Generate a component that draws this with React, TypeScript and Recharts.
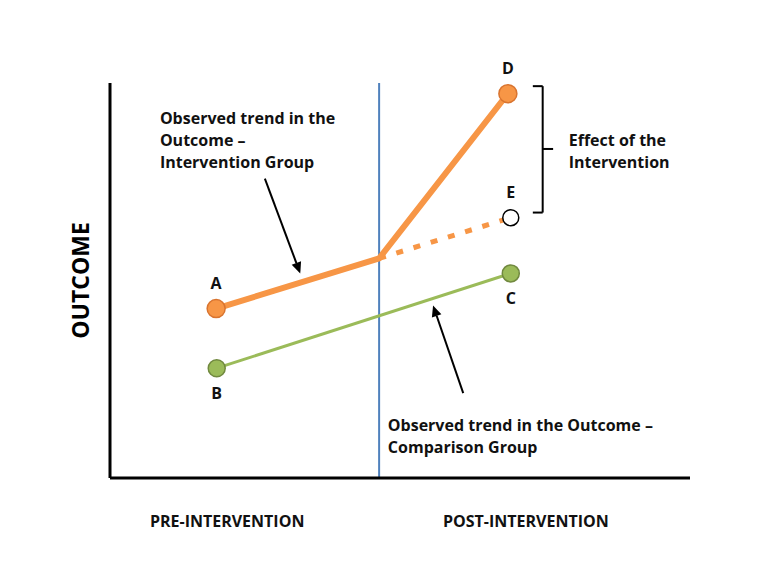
import { LineChart, Line, XAxis, YAxis, ReferenceLine, ReferenceDot } from 'recharts';

// points, in a 0-100 x 0-100 space
const interventionGroup = [
    { x: 18.3, y: 42.9, name: 'A' },
    { x: 46.4, y: 55.6, name: '' },
    { x: 68.6, y: 97.3, name: 'D' },
];
const counterfactual = [
    { x: 46.4, y: 55.6, name: '' },
    { x: 69.1, y: 65.9, name: 'E' },
];
const comparisonGroup = [
    { x: 18.4, y: 27.8, name: 'B' },
    { x: 69.1, y: 51.8, name: 'C' },
];

const periodTicks = [20.2, 71.7];
const periodLabels = ['PRE-INTERVENTION', 'POST-INTERVENTION'];
const interventionX = 46.4;

const interventionNote = ['Observed trend in the', 'Outcome –', 'Intervention Group'];
const comparisonNote = ['Observed trend in the Outcome –', 'Comparison Group'];
const effectNote = ['Effect of the', 'Intervention'];

const FONT = '"Open Sans", Lato, sans-serif';
const ORANGE = '#f79646';
const GREEN = '#9bbb59';

const makeDot = (fill: string, stroke: string, r: number, below: string[]) => (props: any) => {
    const { cx, cy, payload, index } = props;
    if (!payload.name) return <g key={index} />;
    const dy = below.includes(payload.name) ? 31 : -20;
    return (
        <g key={index}>
            <circle cx={cx} cy={cy} r={r} fill={fill} stroke={stroke} strokeWidth={1.5} />
            <text x={cx} y={cy + dy} textAnchor="middle" fontFamily={FONT} fontWeight={700} fontSize={16} fill="#111">
                {payload.name}
            </text>
        </g>
    );
};

const noteLabel = (lines: string[]) => (props: any) => {
    const { viewBox } = props;
    return (
        <text x={viewBox.x} y={viewBox.y} fontFamily={FONT} fontWeight={700} fontSize={16} fill="#111">
            {lines.map((l, i) => (
                <tspan key={i} x={viewBox.x} dy={i === 0 ? 5 : 22}>{l}</tspan>
            ))}
        </text>
    );
};

const arrowShape = (props: any) => {
    const { x1, y1, x2, y2 } = props;
    const a = Math.atan2(y2 - y1, x2 - x1);
    const L = 11, W = 5;
    const bx = x2 - L * Math.cos(a), by = y2 - L * Math.sin(a);
    const p1 = `${bx - W * Math.sin(a)},${by + W * Math.cos(a)}`;
    const p2 = `${bx + W * Math.sin(a)},${by - W * Math.cos(a)}`;
    return (
        <g>
            <line x1={x1} y1={y1} x2={bx} y2={by} stroke="#000" strokeWidth={2} />
            <polygon points={`${x2},${y2} ${p1} ${p2}`} fill="#000" />
        </g>
    );
};

export default function App() {
    return (
        <div style={{ position: 'fixed', left: 0, top: 0, width: 768, height: 576, background: '#fff' }}>
            <LineChart width={768} height={576} margin={{ top: 83, right: 78, bottom: 68, left: 80 }}>
                <XAxis
                    type="number"
                    dataKey="x"
                    domain={[0, 100]}
                    height={30}
                    ticks={periodTicks}
                    tickFormatter={(v) => periodLabels[periodTicks.indexOf(v)]}
                    tickLine={false}
                    tickSize={0}
                    tickMargin={38}
                    tick={{ fill: '#111', fontFamily: FONT, fontWeight: 700, fontSize: 16 }}
                    axisLine={{ stroke: '#000', strokeWidth: 3 }}
                />
                <YAxis
                    type="number"
                    domain={[0, 100]}
                    width={30}
                    tick={false}
                    tickLine={false}
                    axisLine={{ stroke: '#000', strokeWidth: 3 }}
                    label={(props: any) => {
                        const { viewBox } = props;
                        const cx = viewBox.x + viewBox.width - 27;
                        const cy = viewBox.y + viewBox.height / 2;
                        return (
                            <text x={cx} y={cy} transform={`rotate(-90 ${cx} ${cy})`} textAnchor="middle" dominantBaseline="middle"
                                fontFamily={FONT} fontWeight={700} fontSize={23} fill="#000">
                                OUTCOME
                            </text>
                        );
                    }}
                />
                <ReferenceLine x={interventionX} stroke="#4f81bd" strokeWidth={2} />

                {/* arrows pointing at the two trends */}
                <ReferenceLine segment={[{ x: 26.7, y: 75.8 }, { x: 32.8, y: 51.8 }]} shape={arrowShape} />
                <ReferenceLine segment={[{ x: 60.9, y: 21.5 }, { x: 55.7, y: 43.7 }]} shape={arrowShape} />

                {/* brace */}
                <ReferenceLine segment={[{ x: 72.9, y: 99.2 }, { x: 74.6, y: 99.2 }]} stroke="#000" strokeWidth={2} />
                <ReferenceLine segment={[{ x: 74.6, y: 99.2 }, { x: 74.6, y: 67.2 }]} stroke="#000" strokeWidth={2} />
                <ReferenceLine segment={[{ x: 74.6, y: 83.3 }, { x: 76.4, y: 83.3 }]} stroke="#000" strokeWidth={2} />
                <ReferenceLine segment={[{ x: 72.9, y: 67.2 }, { x: 74.6, y: 67.2 }]} stroke="#000" strokeWidth={2} />

                <Line data={comparisonGroup} dataKey="y" stroke={GREEN} strokeWidth={3}
                    dot={makeDot(GREEN, '#71893f', 8.5, ['B', 'C'])} isAnimationActive={false} />
                <Line data={counterfactual} dataKey="y" stroke={ORANGE} strokeWidth={5} strokeDasharray="7 11"
                    dot={makeDot('#fff', '#000', 8, [])} isAnimationActive={false} />
                <Line data={interventionGroup} dataKey="y" stroke={ORANGE} strokeWidth={6}
                    dot={makeDot(ORANGE, '#d9742f', 9, [])} isAnimationActive={false} />

                <ReferenceDot x={8.6} y={90.9} r={0} label={noteLabel(interventionNote)} />
                <ReferenceDot x={79.1} y={85.4} r={0} label={noteLabel(effectNote)} />
                <ReferenceDot x={47.9} y={13.1} r={0} label={noteLabel(comparisonNote)} />
            </LineChart>
        </div>
    );
}
